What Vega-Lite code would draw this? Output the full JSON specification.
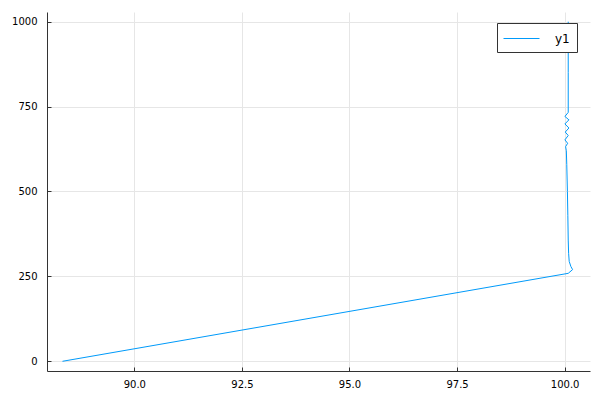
{
  "$schema": "https://vega.github.io/schema/vega-lite/v6.json",
  "width": 543,
  "height": 359,
  "autosize": {"type": "none"},
  "padding": {"left": 47, "top": 12, "right": 10, "bottom": 29},
  "background": "white",
  "config": {
    "view": {"stroke": null},
    "font": "DejaVu Sans",
    "axis": {
      "title": null,
      "grid": true,
      "gridColor": "#e6e6e6",
      "gridWidth": 1,
      "domainColor": "#333333",
      "domainWidth": 1,
      "tickColor": "#333333",
      "tickSize": -4,
      "labelFontSize": 10,
      "labelColor": "#000000",
      "labelFont": "DejaVu Sans"
    }
  },
  "data": {
    "values": [
      {"x": 88.33, "y": 0, "s": "y1"},
      {"x": 100.084, "y": 259, "s": "y1"},
      {"x": 100.186, "y": 270, "s": "y1"},
      {"x": 100.146, "y": 279, "s": "y1"},
      {"x": 100.107, "y": 294, "s": "y1"},
      {"x": 100.093, "y": 318, "s": "y1"},
      {"x": 100.084, "y": 357, "s": "y1"},
      {"x": 100.075, "y": 430, "s": "y1"},
      {"x": 100.065, "y": 500, "s": "y1"},
      {"x": 100.05, "y": 580, "s": "y1"},
      {"x": 100.04, "y": 620, "s": "y1"},
      {"x": 100.023, "y": 632, "s": "y1"},
      {"x": 100.07, "y": 642, "s": "y1"},
      {"x": 100.007, "y": 652, "s": "y1"},
      {"x": 100.084, "y": 665, "s": "y1"},
      {"x": 100.015, "y": 675, "s": "y1"},
      {"x": 100.1, "y": 687, "s": "y1"},
      {"x": 100.007, "y": 699, "s": "y1"},
      {"x": 100.1, "y": 711, "s": "y1"},
      {"x": 100.007, "y": 721, "s": "y1"},
      {"x": 100.084, "y": 733, "s": "y1"},
      {"x": 100.084, "y": 850, "s": "y1"},
      {"x": 100.084, "y": 1000, "s": "y1"}
    ]
  },
  "mark": {"type": "line", "strokeWidth": 1, "color": "#009AFA"},
  "encoding": {
    "x": {
      "field": "x",
      "type": "quantitative",
      "scale": {"domain": [87.97, 100.59], "nice": false, "zero": false},
      "axis": {"values": [90, 92.5, 95, 97.5, 100], "format": ".1f", "labelPadding": 12}
    },
    "y": {
      "field": "y",
      "type": "quantitative",
      "scale": {"domain": [-28.6, 1028.6], "nice": false, "zero": false},
      "axis": {"values": [0, 250, 500, 750, 1000], "format": "d", "labelPadding": 14}
    },
    "order": {"field": "y", "type": "quantitative"},
    "color": {
      "field": "s",
      "type": "nominal",
      "scale": {"range": ["#009AFA"]},
      "legend": {
        "title": null,
        "orient": "none",
        "legendX": 450,
        "legendY": 11,
        "symbolType": "M-2.25,0H2.25",
        "symbolSize": 256,
        "symbolOffset": 9,
        "symbolStrokeWidth": 1,
        "labelFontSize": 12,
        "labelFont": "DejaVu Sans",
        "labelColor": "#000000",
        "labelOffset": 25,
        "padding": 7,
        "strokeColor": "#333333",
        "fillColor": "white"
      }
    }
  }
}
